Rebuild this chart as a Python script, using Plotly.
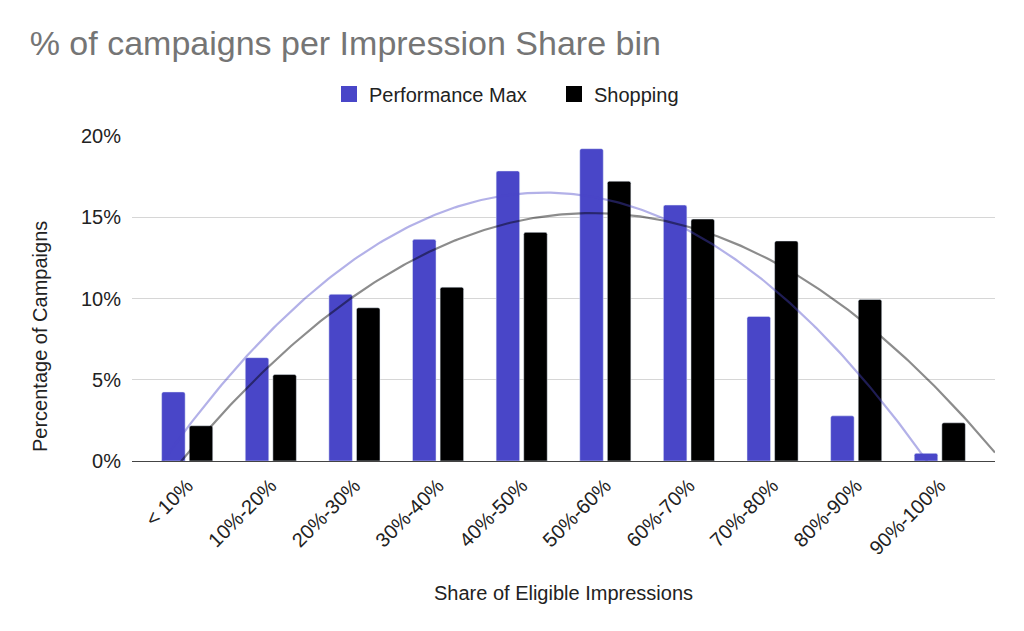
import numpy as np
import plotly.graph_objects as go

categories = ["< 10%", "10%-20%", "20%-30%", "30%-40%", "40%-50%",
              "50%-60%", "60%-70%", "70%-80%", "80%-90%", "90%-100%"]
pmax = [4.25, 6.36, 10.26, 13.64, 17.85, 19.22, 15.75, 8.9, 2.78, 0.47]
shopping = [2.17, 5.32, 9.43, 10.7, 14.07, 17.22, 14.89, 13.54, 9.94, 2.35]
y_ticks = [0, 5, 10, 15, 20]
y_tick_labels = ["0%", "5%", "10%", "15%", "20%"]

BLUE = "#4946c8"
BLACK = "#000000"
FONT = "Liberation Sans, Arial, Helvetica, sans-serif"

x_idx = np.arange(len(categories))
x_range = [-0.66, len(categories) - 1 + 0.66]
x_dense = np.linspace(x_range[0], x_range[1], 300)

def trend(vals):
    coef = np.polyfit(x_idx, np.array(vals, dtype=float), 2)
    return np.polyval(coef, x_dense)

fig = go.Figure()

# legend proxies
fig.add_trace(go.Scatter(x=[None], y=[None], mode="markers", name="Performance Max",
                         marker=dict(symbol="square", size=16, color=BLUE), showlegend=True))
fig.add_trace(go.Scatter(x=[None], y=[None], mode="markers", name="Shopping",
                         marker=dict(symbol="square", size=16, color=BLACK), showlegend=True))

fig.add_trace(go.Bar(x=x_idx, y=pmax, name="Performance Max", marker_color=BLUE,
                     showlegend=False, offsetgroup="a"))
fig.add_trace(go.Bar(x=x_idx, y=shopping, name="Shopping", marker_color=BLACK,
                     showlegend=False, offsetgroup="b"))

fig.add_trace(go.Scatter(x=x_dense, y=trend(pmax), mode="lines",
                         line=dict(color="rgba(73,70,200,0.42)", width=2.2),
                         showlegend=False, hoverinfo="skip"))
fig.add_trace(go.Scatter(x=x_dense, y=trend(shopping), mode="lines",
                         line=dict(color="rgba(0,0,0,0.45)", width=2.2),
                         showlegend=False, hoverinfo="skip"))

fig.update_layout(
    width=1024, height=631,
    margin=dict(l=132, r=29, t=136, b=170),
    paper_bgcolor="white", plot_bgcolor="white",
    font=dict(family=FONT, size=20, color="#222222"),
    barmode="group", bargap=0.34, bargroupgap=0.148, barcornerradius=2,
    title=dict(text="% of campaigns per Impression Share bin",
               font=dict(family=FONT, size=34, color="#757575"),
               xref="container", x=0.029, xanchor="left",
               yref="container", y=1 - 43 / 631, yanchor="middle"),
    legend=dict(orientation="h", xref="container", x=329 / 1024, xanchor="left",
                yref="container", y=1 - 94 / 631, yanchor="middle",
                entrywidth=180,
                font=dict(family=FONT, size=20, color="#222222"),
                bgcolor="rgba(0,0,0,0)"),
    xaxis=dict(range=x_range, tickmode="array", tickvals=list(x_idx), ticktext=categories,
               tickangle=-45, tickfont=dict(size=20, color="#222222"),
               showgrid=False, zeroline=False, showline=False, ticks="",
               ticklabelstandoff=8,
               title=dict(text="Share of Eligible Impressions", standoff=27,
                          font=dict(size=20, color="#222222"))),
    yaxis=dict(range=[0, 20], tickmode="array", tickvals=y_ticks, ticktext=y_tick_labels,
               showgrid=True, gridcolor="#d6d6d6", gridwidth=1.3,
               zeroline=True, zerolinecolor="#444444", zerolinewidth=1.3,
               showline=False, ticks="", ticklabelstandoff=10,
               tickfont=dict(size=20, color="#222222")),
    annotations=[dict(text="Percentage of Campaigns", textangle=-90,
                      xref="paper", yref="paper", x=(40 - 132) / 863, y=(461 - 337) / 325,
                      xanchor="center", yanchor="middle", showarrow=False,
                      font=dict(family=FONT, size=20, color="#222222"))],
)

fig.write_html("out.html")
